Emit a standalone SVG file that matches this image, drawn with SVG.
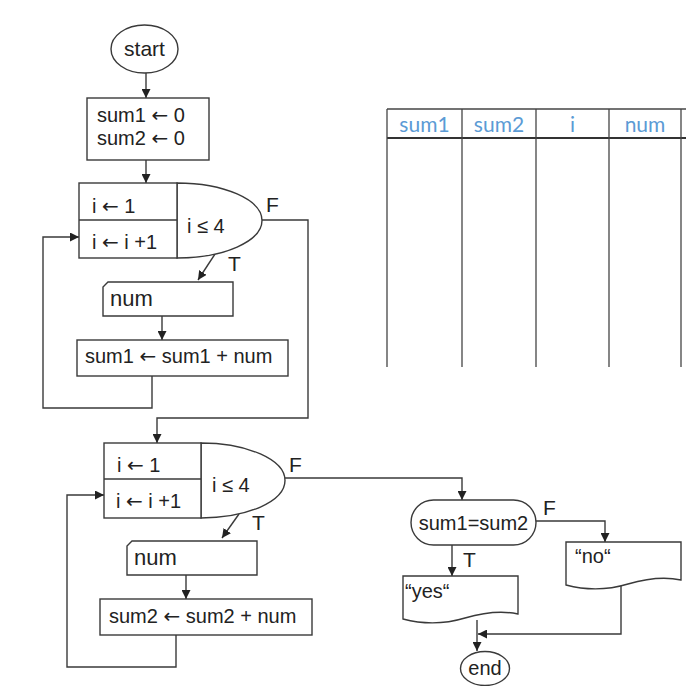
<svg xmlns="http://www.w3.org/2000/svg" width="686" height="686" viewBox="0 0 686 686">
<defs>
<marker id="ah" viewBox="0 0 10 10" refX="10" refY="5" markerWidth="9" markerHeight="9" markerUnits="userSpaceOnUse" orient="auto">
<path d="M0,0 L10,5 L0,10 z" fill="#222"/>
</marker>
</defs>
<style>
.s{fill:#fff;stroke:#3a3a3a;stroke-width:1.4}
.t{font-family:"Liberation Sans",Arial,sans-serif;font-size:20px;fill:#222}
.ar{font-family:"DejaVu Sans",sans-serif;font-weight:normal}
.c{stroke:#3a3a3a;stroke-width:1.4;fill:none}
.a{marker-end:url(#ah)}
.tl{stroke:#444;stroke-width:1.3;fill:none}
.th{font-family:Lato,"Open Sans",sans-serif;font-size:21px;fill:#5b9bd5;text-anchor:middle}
</style>
<rect width="686" height="686" fill="#fff"/>

<g id="table">
<line class="tl" x1="387" y1="109" x2="686" y2="109"/>
<line x1="387" y1="138" x2="686" y2="138" stroke="#333" stroke-width="2"/>
<line class="tl" x1="387" y1="109" x2="387" y2="367"/>
<line class="tl" x1="462" y1="109" x2="462" y2="367"/>
<line class="tl" x1="536" y1="109" x2="536" y2="367"/>
<line class="tl" x1="609" y1="109" x2="609" y2="367"/>
<line class="tl" x1="681" y1="109" x2="681" y2="367"/>
<text class="th" x="424.5" y="132">sum1</text>
<text class="th" x="499" y="132">sum2</text>
<text class="th" x="572.5" y="132">i</text>
<text class="th" x="645" y="132">num</text>
</g>

<g id="connectors">
<path class="c a" d="M146,73 V98"/>
<path class="c a" d="M146,160 V183"/>
<path class="c a" d="M215,254 L198,280"/>
<path class="c a" d="M162,316 V340"/>
<path class="c a" d="M152,376 V408 H43 V237 H79"/>
<path class="c a" d="M262,220 H308 V418 H157 V443"/>
<path class="c a" d="M239,514 L222,538"/>
<path class="c a" d="M186,575 V599"/>
<path class="c a" d="M176,635 V667 H67 V495 H104"/>
<path class="c a" d="M285,478 H462 V500"/>
<path class="c a" d="M536,521 H605 V542"/>
<path class="c a" d="M452,545 V576"/>
<path class="c a" d="M477,620 V651"/>
<path class="c a" d="M621,586 V634 H478"/>
<text class="t" x="266" y="212" style="font-size:21px">F</text>
<text class="t" x="228" y="271" style="font-size:21px">T</text>
<text class="t" x="289" y="472" style="font-size:21px">F</text>
<text class="t" x="252" y="530" style="font-size:21px">T</text>
<text class="t" x="543" y="515" style="font-size:21px">F</text>
<text class="t" x="463" y="567" style="font-size:21px">T</text>
</g>

<g id="start">
<ellipse class="s" cx="144.5" cy="49" rx="33.5" ry="24"/>
<text class="t" x="144.5" y="56" text-anchor="middle" style="font-size:21px">start</text>
</g>

<g id="init">
<rect class="s" x="87" y="98" width="122" height="62"/>
<text class="t" x="97" y="122">sum1 <tspan class="ar">←</tspan> 0</text>
<text class="t" x="97" y="145">sum2 <tspan class="ar">←</tspan> 0</text>
</g>

<g id="loop1">
<path class="s" d="M177,183 A85,37.5 0 0 1 177,258 Z"/>
<rect class="s" x="79" y="183" width="98" height="75"/>
<line class="c" x1="79" y1="220" x2="177" y2="220"/>
<text class="t" x="92" y="213">i <tspan class="ar">←</tspan> 1</text>
<text class="t" x="92" y="249">i <tspan class="ar">←</tspan> i +1</text>
<text class="t" x="187" y="233">i ≤ 4</text>
</g>

<g id="input1">
<path class="s" d="M108,282 H233 V316 H103 V287 Z"/>
<text class="t" x="110" y="306" style="font-size:22px">num</text>
</g>

<g id="add1">
<rect class="s" x="77" y="340" width="211" height="36"/>
<text class="t" x="85" y="363">sum1 <tspan class="ar">←</tspan> sum1 + num</text>
</g>

<g id="loop2">
<path class="s" d="M201,443 A84,37.5 0 0 1 201,518 Z"/>
<rect class="s" x="104" y="443" width="97" height="75"/>
<line class="c" x1="104" y1="479" x2="201" y2="479"/>
<text class="t" x="117" y="472">i <tspan class="ar">←</tspan> 1</text>
<text class="t" x="116" y="508">i <tspan class="ar">←</tspan> i +1</text>
<text class="t" x="212" y="492">i ≤ 4</text>
</g>

<g id="input2">
<path class="s" d="M132,541 H257 V575 H127 V546 Z"/>
<text class="t" x="134" y="565" style="font-size:22px">num</text>
</g>

<g id="add2">
<rect class="s" x="100" y="599" width="212" height="36"/>
<text class="t" x="109" y="623">sum2 <tspan class="ar">←</tspan> sum2 + num</text>
</g>

<g id="compare">
<rect class="s" x="411" y="500" width="125" height="45" rx="22.5" ry="22.5"/>
<text class="t" x="473.5" y="530" text-anchor="middle">sum1=sum2</text>
</g>

<g id="yes">
<path class="s" d="M403,576 H518 V614 C500,610 482,613 465,618 C445,624 422,624 403,619 Z"/>
<text class="t" x="405" y="598">“yes“</text>
</g>

<g id="no">
<path class="s" d="M566,542 H681 V580 C663,576 645,579 628,584 C608,590 585,590 566,585 Z"/>
<text class="t" x="575" y="563">“no“</text>
</g>

<g id="end">
<ellipse class="s" cx="485" cy="668.5" rx="24.5" ry="17"/>
<text class="t" x="485" y="675" text-anchor="middle">end</text>
</g>
</svg>
